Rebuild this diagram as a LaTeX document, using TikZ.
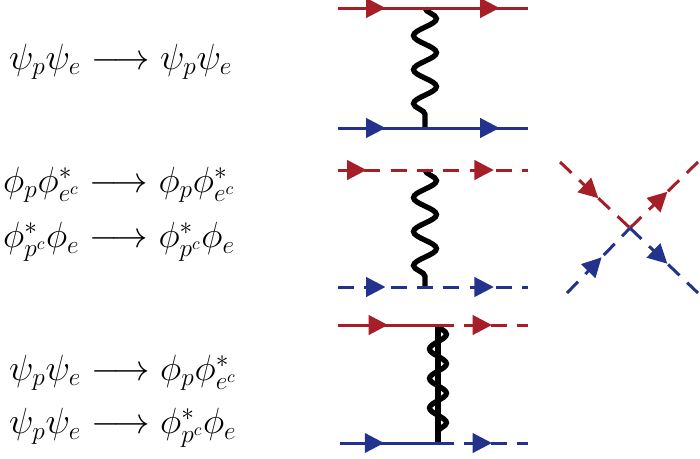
\documentclass[tikz,border=0pt]{standalone}
\usetikzlibrary{decorations.pathmorphing,decorations.markings,arrows.meta}
\definecolor{myred}{RGB}{165,30,40}
\definecolor{myblue}{RGB}{35,50,140}
\begin{document}
\begin{tikzpicture}[x=0.02cm,y=-0.02cm,
  ln/.style={line width=1.7pt},
  dsh/.style={line width=1.7pt,dash pattern=on 9pt off 6pt},
  arrA/.style={postaction={decorate,decoration={markings,mark=at position #1 with {\arrow{Triangle[length=11pt,width=11pt]}}}}},
  wig/.style={line width=3pt,decorate,decoration={snake,amplitude=2.3mm,segment length=6.8mm}},
  lbl/.style={anchor=west,font=\fontsize{20}{24}\selectfont}]
\useasboundingbox (0,0) rectangle (700,458);
% labels
\node[lbl] (t1) at (3,62) {$\psi_p\psi_e\longrightarrow\psi_p\psi_e$};
\node[lbl] (t2) at (-3,185) {$\phi_p\phi^*_{e^c}\longrightarrow\phi_p\phi^*_{e^c}$};
\node[lbl] (t3) at (-3,242) {$\phi^*_{p^c}\phi_e\longrightarrow\phi^*_{p^c}\phi_e$};
\node[lbl] (t4) at (3,373) {$\psi_p\psi_e\longrightarrow\phi_p\phi^*_{e^c}$};
\node[lbl] (t5) at (3,428) {$\psi_p\psi_e\longrightarrow\phi^*_{p^c}\phi_e$};
% diagram 1
\coordinate (a1) at (338,8); \coordinate (a2) at (528,8);
\coordinate (b1) at (338,128); \coordinate (b2) at (528,128);
\coordinate (w1) at (425,8); \coordinate (w2) at (425,128);
\draw[wig] (w1) -- (w2);
\draw[ln,myred,arrA=0.25,arrA=0.85] (a1) -- (a2);
\draw[ln,myblue,arrA=0.25,arrA=0.85] (b1) -- (b2);
% diagram 2
\coordinate (c1) at (338,170); \coordinate (c2) at (528,170);
\coordinate (d1) at (338,287); \coordinate (d2) at (528,287);
\coordinate (v1) at (425,170); \coordinate (v2) at (425,287);
\draw[wig] (v1) -- (v2);
\draw[dsh,myred,arrA=0.15,arrA=0.82] (c1) -- (c2);
\draw[dsh,myblue,arrA=0.25,arrA=0.82] (d1) -- (d2);
% cross
\coordinate (x0) at (630,228);
\coordinate (xa) at (560,162); \coordinate (xb) at (698,162);
\coordinate (xc) at (567,293); \coordinate (xd) at (698,293);
\draw[dsh,myred,arrA=0.55] (xa) -- (x0);
\draw[dsh,myred,arrA=0.55] (x0) -- (xb);
\draw[dsh,myblue,arrA=0.55] (xc) -- (x0);
\draw[dsh,myblue,arrA=0.55] (x0) -- (xd);
% diagram 3
\coordinate (e1) at (338,325); \coordinate (e0) at (438,325); \coordinate (e2) at (528,325);
\coordinate (f1) at (340,443); \coordinate (f0) at (438,443); \coordinate (f2) at (528,443);
\draw[line width=3pt] (e0) -- (f0);
\draw[wig,decoration={snake,amplitude=1.7mm,segment length=5.9mm}] (e0) -- (f0);
\draw[ln,myred,arrA=0.5] (e1) -- (e0);
\draw[dsh,myred,arrA=0.6] (e0) -- (e2);
\draw[ln,myblue,arrA=0.45] (f1) -- (f0);
\draw[dsh,myblue,arrA=0.6] (f0) -- (f2);
\end{tikzpicture}
\end{document}
